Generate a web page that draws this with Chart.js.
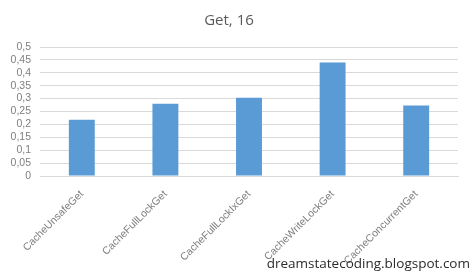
<!DOCTYPE html>
<html>
<head>
<meta charset="utf-8">
<script src="https://cdn.jsdelivr.net/npm/chart.js@4/dist/chart.umd.min.js"></script>
<style>
  body { margin: 0; background: #fff; }
  #wrap { position: relative; width: 474px; height: 274px; }
  #mark { position: absolute; right: 4px; bottom: 2px; font: 13.5px "Open Sans", sans-serif; color: #2b2b2b; }
</style>
</head>
<body>
<div id="wrap">
  <canvas id="c" width="474" height="274"></canvas>
  <div id="mark">dreamstatecoding.blogspot.com</div>
</div>
<script>
const categories = ["CacheUnsafeGet", "CacheFullLockGet", "CacheFullLockIxGet", "CacheWriteLockGet", "CacheConcurrentGet"];
const values = [0.218, 0.28, 0.303, 0.44, 0.273];
const yTicks = [0, 0.05, 0.1, 0.15, 0.2, 0.25, 0.3, 0.35, 0.4, 0.45, 0.5];

const grey = "#7f7f7f";

new Chart(document.getElementById("c"), {
  type: "bar",
  data: {
    labels: categories,
    datasets: [{
      label: "Get, 16",
      data: values,
      backgroundColor: "#5b9bd5",
      categoryPercentage: 1,
      barPercentage: 0.31
    }]
  },
  options: {
    responsive: false,
    animation: false,
    layout: { padding: { top: 12, right: 16, left: 0, bottom: 0 } },
    plugins: {
      legend: { display: false },
      tooltip: { enabled: false },
      title: {
        display: true,
        text: "Get, 16",
        color: "#595959",
        font: { family: "Open Sans", size: 15, weight: "normal" },
        padding: { top: 0, bottom: 17 }
      }
    },
    scales: {
      y: {
        min: 0,
        max: 0.5,
        afterBuildTicks: s => { s.ticks = yTicks.map(v => ({ value: v })); },
        afterFit: s => { s.width = 40; },
        border: { display: false },
        grid: { color: "#d9d9d9", drawTicks: false },
        ticks: {
          autoSkip: false,
          color: grey,
          padding: 9,
          font: { family: "Liberation Sans", size: 10.5 },
          callback: v => String(Number(v.toFixed(2))).replace(".", ",")
        }
      },
      x: {
        afterFit: s => { s.height = 98; },
        grid: { display: false },
        border: { color: "#d9d9d9" },
        ticks: {
          color: grey,
          minRotation: 45,
          maxRotation: 45,
          padding: 4,
          font: { family: "Liberation Sans", size: 10.5 }
        }
      }
    }
  }
});
</script>
</body>
</html>
